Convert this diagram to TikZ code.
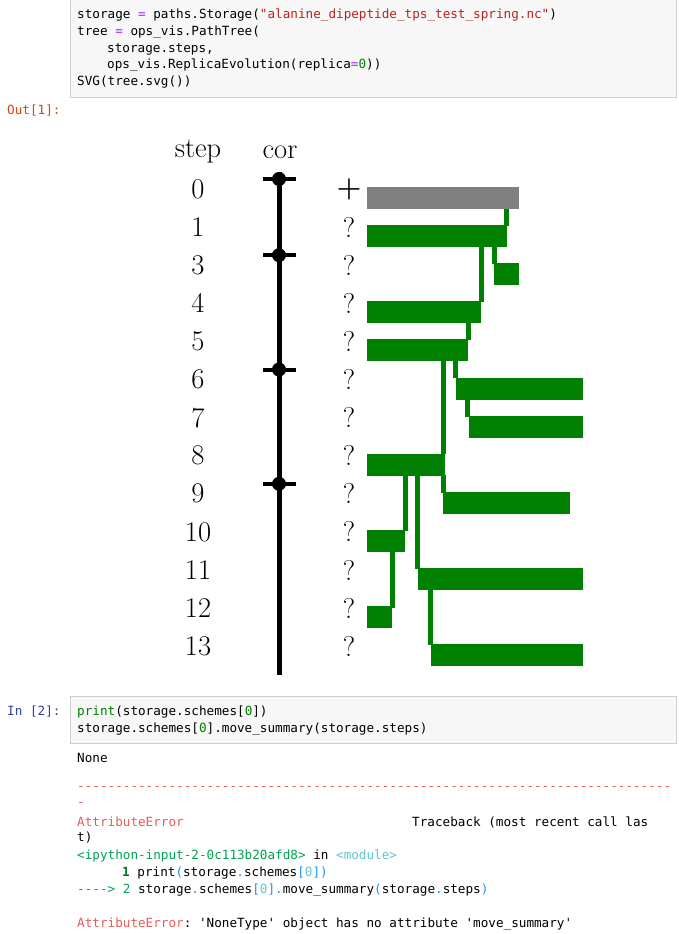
\documentclass[tikz,border=0pt]{standalone}
\usepackage{fontspec}
\setmonofont{DejaVu Sans Mono}
\definecolor{bxf}{HTML}{F7F7F7}
\definecolor{bxd}{HTML}{CFCFCF}
\definecolor{kpur}{HTML}{AA22FF}
\definecolor{kstr}{HTML}{BA2121}
\definecolor{kgrn}{HTML}{008000}
\definecolor{outc}{HTML}{D84315}
\definecolor{inc}{HTML}{303F9F}
\definecolor{tred}{HTML}{E75C58}
\definecolor{tgrn}{HTML}{00A250}
\definecolor{tcyn}{HTML}{60C6C8}
\definecolor{tblu}{HTML}{208FFB}
\definecolor{tdg}{HTML}{007427}
\definecolor{barg}{HTML}{008000}
\definecolor{bargr}{HTML}{808080}
\begin{document}
\begin{tikzpicture}[x=1pt,y=-1pt,
  code/.style={anchor=west,inner sep=0pt,font=\ttfamily\fontsize{12.65}{15}\selectfont},
  lab/.style={inner sep=0pt,font=\fontsize{28.5}{30}\selectfont},
  cellbox/.style={fill=bxf,draw=bxd,line width=0.8pt},
  conn/.style={draw=barg,line width=5pt}]
\useasboundingbox (0,0) rectangle (678,934);
% cell 1
\path[cellbox] (70,-5) rectangle (676,97);
\node[code] (c1) at (77,15) {storage \textcolor{kpur}{=} paths.Storage(\textcolor{kstr}{"alanine\_dipeptide\_tps\_test\_spring.nc"})};
\node[code] (c2) at (77,32) {tree \textcolor{kpur}{=} ops\_vis.PathTree(};
\node[code] (c3) at (107,49) {storage.steps,};
\node[code] (c4) at (107,65) {ops\_vis.ReplicaEvolution(replica\textcolor{kpur}{=}\textcolor{kgrn}{0}))};
\node[code] (c5) at (77,82) {SVG(tree.svg())};
\node[code,text=outc] (out1) at (7,111) {Out[1]:};
% tree
\node[lab] (hstep) at (198,152) {step};
\node[lab] (hcor) at (280,152) {cor};
\draw[line width=5pt] (279,172) -- (279,675);
\foreach \s/\k in {0/0,1/1,3/2,4/3,5/4,6/5,7/6,8/7,9/8,10/9,11/10,12/11,13/12}{
  \node[lab] (s\k) at (198,{189+38.1*\k}) {\s};
  \ifnum\k=0 \node[lab] (q\k) at (349,{189+38.1*\k}) {\textbf{+}};
  \else \node[lab] (q\k) at (349,{189+38.1*\k}) {?}; \fi
}
\foreach \k in {0,2,5,8}{
  \draw[line width=4pt] (263,{179+38.1*\k}) -- (296,{179+38.1*\k});
  \fill (279,{179+38.1*\k}) circle (7);
}
% connectors
\path[conn] (506.5,209) -- (506.5,226);
\path[conn] (494.5,247) -- (494.5,264);
\path[conn] (481.5,247) -- (481.5,302);
\path[conn] (468.5,323) -- (468.5,340);
\path[conn] (455.5,361) -- (455.5,378);
\path[conn] (443.5,361) -- (443.5,454);
\path[conn] (467.5,399) -- (467.5,417);
\path[conn] (443.5,475) -- (443.5,493);
\path[conn] (405,475) -- (405,531);
\path[conn] (417.5,475) -- (417.5,569);
\path[conn] (392.5,552) -- (392.5,608);
\path[conn] (430.5,590) -- (430.5,645);
% bars
\fill[bargr] (367,187) rectangle (519,209);
\foreach \a/\b/\k in {367/507/1,494/519/2,367/481/3,367/468/4,456/583/5,469/583/6,367/445/7,443/570/8,367/405/9,418/583/10,367/392/11,431/583/12}{
  \fill[barg] (\a,{187+38.1*\k}) rectangle (\b,{209+38.1*\k});
}
% cell 2
\node[code,text=inc] (in2) at (7,712) {In [2]:};
\path[cellbox] (70,696) rectangle (676,743);
\node[code] (d1) at (77,712) {\textcolor{kgrn}{print}(storage.schemes[\textcolor{kgrn}{0}])};
\node[code] (d2) at (77,729) {storage.schemes[\textcolor{kgrn}{0}].move\_summary(storage.steps)};
\node[code] (o1) at (77,758) {None};
\node[code,text=tred] (o2) at (77,789) {------------------------------------------------------------------------------};
\node[code,text=tred] (o3) at (77,805) {-};
\node[code,text=tred] (o4) at (77,822) {AttributeError};
\node[code] (o4b) at (412,822) {Traceback (most recent call las};
\node[code] (o5) at (77,838) {t)};
\node[code] (o6) at (77,856) {\textcolor{tgrn}{<ipython-input-2-0c113b20afd8>} in \textcolor{tcyn}{<module>}};
\node[code] (o7) at (122,873) {\textcolor{tdg}{\bfseries 1} print\textcolor{tblu}{(}storage\textcolor{tblu}{.}schemes\textcolor{tblu}{[}\textcolor{tcyn}{0}\textcolor{tblu}{])}};
\node[code] (o8) at (77,890) {\textcolor{tgrn}{----> 2} storage\textcolor{tblu}{.}schemes\textcolor{tblu}{[}\textcolor{tcyn}{0}\textcolor{tblu}{].}move\_summary\textcolor{tblu}{(}storage\textcolor{tblu}{.}steps\textcolor{tblu}{)}};
\node[code] (o9) at (77,924) {\textcolor{tred}{AttributeError}: 'NoneType' object has no attribute 'move\_summary'};
\end{tikzpicture}
\end{document}
